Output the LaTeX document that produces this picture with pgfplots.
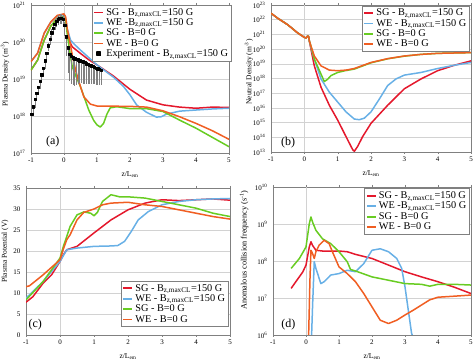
\documentclass[border=0pt]{standalone}
\usepackage{pgfplots}
\pgfplotsset{compat=1.18}
\usepackage{fontspec}
\setmainfont{Liberation Serif}
\definecolor{cRed}{RGB}{228,24,44}
\definecolor{cBlue}{RGB}{104,176,230}
\definecolor{cGreen}{RGB}{104,204,34}
\definecolor{cOrange}{RGB}{240,94,34}
\tikzset{plab/.style={font=\fontsize{12}{12}\selectfont}}
\pgfplotsset{
  panel/.style={
    scale only axis, xmin=-1, xmax=5, xtick={-1,0,1,2,3,4,5},
    axis line style={gray}, tick style={gray}, tick align=outside,
    major tick length=2pt, ytick style={draw=none},
    ymajorgrids, grid style={gray!35, line width=0.5pt},
    extra x ticks={0}, extra x tick labels={},
    extra x tick style={grid=major, major tick length=0pt},
    xlabel={z/L\textsubscript{em}},
    tick label style={font=\fontsize{7}{8}\selectfont},
    label style={font=\fontsize{7.5}{9}\selectfont},
    legend cell align=left,
    legend style={font=\fontsize{10.3}{11}\selectfont, draw=gray, line width=0.6pt,
      row sep=-2pt, inner sep=1pt, inner xsep=1.5pt},
    legend image code/.code={\draw[#1, line width=1.8pt] (0pt,0pt) -- (9pt,0pt);},
    every axis plot/.append style={line width=1.5pt, line join=round},
    /pgf/number format/assume math mode=true,
    xticklabel style={yshift=1pt},
  },
}
\begin{document}
\begin{tikzpicture}
\path[use as bounding box] (0pt,0pt) rectangle (474pt,361pt);
% ---------------- (a)
\begin{axis}[panel, ymode=log, log basis y=10,
  yticklabel={10\textsuperscript{\pgfmathprintnumber[fixed,precision=0]{\tick}}},
  at={(31pt,208pt)}, anchor=south west,
  width=198pt, height=148pt, ymin=1e17, ymax=1e21,
  ytick={1e17,1e18,1e19,1e20,1e21},
  ylabel={Plasma Density (m\textsuperscript{-3})},
  ylabel style={at={(rel axis cs:-0.131,0.534)}, anchor=center},
  legend style={at={(rel axis cs:1.015,1)}, anchor=north east}]
\addplot[cRed] coordinates {(-1,1.74e19)(-0.8,3.24e19)(-0.6,1.12e20)(-0.4,2.69e20)(-0.2,4.37e20)(-0.05,4.79e20)(0.05,3.98e20)(0.1,2.0e20)(0.15,1.12e20)(0.25,7.41e19)(0.5,4.9e19)(0.75,3.31e19)(1,2.4e19)(1.5,1.2e19)(2,5.25e18)(2.5,2.69e18)(3,2.0e18)(3.5,1.74e18)(4,1.62e18)(4.5,1.74e18)(5,1.70e18)};
\addlegendentry{SG - B\textsubscript{z,maxCL}=150 G}
\addplot[cBlue] coordinates {(-1,2.95e19)(-0.8,5.01e19)(-0.6,1.74e20)(-0.4,3.47e20)(-0.2,5.01e20)(0,5.5e20)(0.05,4.47e20)(0.1,2.24e20)(0.2,1.12e20)(0.3,8.91e19)(0.5,6.03e19)(0.75,3.8e19)(1,2.4e19)(1.5,1.12e19)(1.8,6.31e18)(2,3.72e18)(2.2,2.0e18)(2.5,1.26e18)(2.8,9.33e17)(2.95,9.55e17)(3.1,1.12e18)(3.5,1.35e18)(4,1.45e18)(4.5,1.55e18)(5,1.62e18)};
\addlegendentry{WE -B\textsubscript{z,maxCL}=150 G}
\addplot[cGreen] coordinates {(-1,1.74e19)(-0.8,3.24e19)(-0.6,1.12e20)(-0.4,2.69e20)(-0.2,4.37e20)(-0.05,4.79e20)(0.05,3.98e20)(0.1,1.58e20)(0.2,3.98e19)(0.25,2.14e19)(0.35,1.26e19)(0.5,6.17e18)(0.75,1.45e18)(0.9,7.59e17)(1.0,5.75e17)(1.1,5.01e17)(1.2,6.31e17)(1.3,1.12e18)(1.4,1.66e18)(1.6,1.78e18)(2,1.58e18)(2.5,1.58e18)(3,1.32e18)(3.5,7.76e17)(4,4.68e17)(4.5,2.63e17)(5,1.48e17)};
\addlegendentry{SG - B=0 G}
\addplot[cOrange] coordinates {(-1,2.95e19)(-0.8,5.01e19)(-0.6,1.74e20)(-0.4,3.47e20)(-0.2,5.25e20)(0,5.75e20)(0.05,4.79e20)(0.1,2.24e20)(0.15,1.38e20)(0.25,4.47e19)(0.35,1.74e19)(0.45,8.51e18)(0.6,3.31e18)(0.8,2.09e18)(1,1.86e18)(2,1.82e18)(2.5,1.74e18)(3,1.38e18)(3.5,9.55e17)(4,6.31e17)(4.5,3.98e17)(5,2.34e17)};
\addlegendentry{WE - B=0 G}
\addplot[black, only marks, mark=square*, mark size=1.2pt, mark options={line width=0.2pt},
  legend image code/.code={\draw[black, fill=black] (2.7pt,-1.8pt) rectangle (6.3pt,1.8pt);},
  error bars/.cd, y dir=both, y explicit relative,
  error bar style={gray, line width=0.4pt}, error mark=none]
  table[x=x, y=y, y error plus=ep, y error minus=em] {
x y ep em
-0.98 1.12e18 0 0.55
-0.93 1.78e18 0 0.4
-0.88 2.82e18 0 0.4
-0.83 4.17e18 0 0.4
-0.78 6.03e18 0 0.4
-0.73 8.91e18 0 0.4
-0.68 1.32e19 0 0.4
-0.63 2.0e19 0 0.4
-0.58 3.16e19 0 0.4
-0.53 5.01e19 0 0.4
-0.48 7.94e19 0.2 0.3
-0.43 1.2e20 0.2 0.3
-0.38 1.78e20 0.25 0.3
-0.33 2.4e20 0.25 0.3
-0.28 3.02e20 0.25 0.3
-0.23 3.63e20 0.25 0.3
-0.18 4.17e20 0.25 0.3
-0.13 4.47e20 0.25 0.3
-0.08 4.47e20 0.25 0.3
-0.03 4.17e20 0.25 0.4
0.02 2.82e20 0.2 0.5
0.07 1.41e20 0 0.7
0.12 7.08e19 0 0.8
0.17 4.79e19 0 0.82
0.22 4.17e19 0 0.82
0.27 3.8e19 0 0.82
0.32 3.55e19 0 0.82
0.37 3.39e19 0 0.8
0.42 3.31e19 0 0.78
0.47 3.16e19 0 0.76
0.52 3.09e19 0 0.75
0.57 2.95e19 0 0.75
0.62 2.82e19 0 0.74
0.67 2.63e19 0 0.72
0.72 2.51e19 0 0.7
0.77 2.4e19 0 0.7
0.82 2.29e19 0 0.68
0.87 2.19e19 0 0.67
0.92 2.09e19 0 0.66
0.97 2.0e19 0 0.65
1.02 1.91e19 0 0.65
1.07 1.82e19 0 0.62
1.12 1.74e19 0 0.6
};
\addlegendentry{Experiment - B\textsubscript{z,maxCL}=150 G}
\node[plab] at (rel axis cs:0.11,0.075) {(a)};
\end{axis}
% ---------------- (b)
\begin{axis}[panel, ymode=log, log basis y=10,
  yticklabel={10\textsuperscript{\pgfmathprintnumber[fixed,precision=0]{\tick}}},
  at={(271pt,209pt)}, anchor=south west,
  width=200pt, height=147pt, ymin=1e13, ymax=1e23,
  ytick={1e13,1e14,1e15,1e16,1e17,1e18,1e19,1e20,1e21,1e22,1e23},
  ylabel={Neutral Density (m\textsuperscript{-3})},
  ylabel style={at={(rel axis cs:-0.11,0.544)}, anchor=center},
  legend style={at={(rel axis cs:0.995,0.995)}, anchor=north east}]
\addplot[cRed] coordinates {(-1,2.75e22)(-0.8,1.26e22)(-0.5,4.57e21)(-0.2,1.26e21)(0,6.31e20)(0.05,5.62e20)(0.1,7.94e20)(0.13,7.08e20)(0.15,3.55e20)(0.2,9.55e19)(0.3,7.24e18)(0.5,2.57e17)(0.75,1.51e16)(1,1.48e15)(1.25,1.12e14)(1.45,1.45e13)(1.5,1.12e13)(1.6,2.4e13)(1.75,1.12e14)(2,8.91e14)(2.5,1.51e16)(3,2.0e17)(3.5,9.33e17)(4,3.39e18)(4.5,7.94e18)(5,1.58e19)};
\addlegendentry{SG - B\textsubscript{z,maxCL}=150 G}
\addplot[cBlue] coordinates {(-1,2.75e22)(-0.8,1.26e22)(-0.5,4.57e21)(-0.2,1.26e21)(0,6.31e20)(0.05,5.62e20)(0.1,7.94e20)(0.13,7.08e20)(0.15,3.55e20)(0.2,1.26e20)(0.3,2.04e19)(0.5,9.33e17)(0.75,1.17e17)(1,2.51e16)(1.25,5.37e15)(1.5,1.74e15)(1.65,1.58e15)(1.8,2.0e15)(2,5.37e15)(2.25,3.98e16)(2.5,3.31e17)(2.75,9.33e17)(3,1.7e18)(3.5,2.57e18)(4,4.79e18)(4.5,7.94e18)(5,1.23e19)};
\addlegendentry{WE - B\textsubscript{z,maxCL}=150 G}
\addplot[cGreen] coordinates {(-1,2.75e22)(-0.8,1.26e22)(-0.5,4.57e21)(-0.2,1.26e21)(0,6.31e20)(0.05,5.62e20)(0.1,7.94e20)(0.13,7.08e20)(0.15,3.55e20)(0.2,1.58e20)(0.3,2.04e19)(0.5,2.0e18)(0.6,6.17e17)(0.7,8.91e17)(0.8,1.58e18)(1,2.57e18)(1.2,3.31e18)(1.5,4.37e18)(2,1.17e19)(2.5,2.19e19)(3,3.31e19)(3.5,4.37e19)(4,5.13e19)(5,5.75e19)};
\addlegendentry{SG - B=0 G}
\addplot[cOrange] coordinates {(-1,2.75e22)(-0.8,1.26e22)(-0.5,4.57e21)(-0.2,1.26e21)(0,6.31e20)(0.05,5.62e20)(0.1,7.94e20)(0.13,7.08e20)(0.15,3.55e20)(0.2,1.58e20)(0.3,3.39e19)(0.5,7.24e18)(0.75,3.72e18)(1,3.39e18)(1.25,3.72e18)(1.5,4.79e18)(2,1.23e19)(2.5,2.24e19)(3,3.39e19)(3.5,4.37e19)(4,5.13e19)(5,5.75e19)};
\addlegendentry{WE - B=0 G}
\node[plab] at (rel axis cs:0.085,0.065) {(b)};
\end{axis}
% ---------------- (c)
\begin{axis}[panel, at={(26pt,26pt)}, anchor=south west,
  width=204pt, height=147pt, ymin=0, ymax=35,
  ytick={0,5,10,15,20,25,30,35},
  ylabel={Plasma Potential (V)},
  ylabel style={at={(rel axis cs:-0.103,0.571)}, anchor=center},
  legend style={at={(rel axis cs:0.995,0.055)}, anchor=south east}]
\addplot[cRed] coordinates {(-1,7.8)(-0.8,9.1)(-0.5,12.3)(-0.25,14.3)(0,17.5)(0.1,19.1)(0.2,20.3)(0.5,21.1)(1,24.3)(1.5,27.4)(2,29.8)(2.5,31.4)(3,32.2)(3.5,32.0)(4,32.2)(4.5,32.4)(5,32.1)};
\addlegendentry{SG - B\textsubscript{z,maxCL}=150 G}
\addplot[cBlue] coordinates {(-1,8.75)(-0.5,12.7)(0,17.5)(0.2,20.3)(0.5,20.7)(1,21.1)(1.5,21.2)(1.7,21.3)(1.9,22.3)(2.1,24.7)(2.3,27.4)(2.6,29.4)(3,31.0)(3.5,31.8)(4,32.2)(4.5,32.4)(5,32.5)};
\addlegendentry{WE - B\textsubscript{z,maxCL}=150 G}
\addplot[cGreen] coordinates {(-1,8.35)(-0.5,12.7)(0,18.3)(0.1,21.1)(0.3,25.9)(0.5,28.6)(0.7,29.3)(0.9,29.0)(1,28.4)(1.1,29.2)(1.25,31.8)(1.5,33.4)(1.75,32.9)(2,32.9)(2.5,32.6)(3,31.8)(3.5,31.0)(4,30.2)(4.5,29.0)(5,28.2)};
\addlegendentry{SG - B=0 G}
\addplot[cOrange] coordinates {(-1,11.5)(-0.9,11.7)(-0.5,14.3)(0,17.9)(0.1,20.5)(0.2,22.7)(0.3,23.9)(0.5,27.4)(0.7,29.2)(1,30.0)(1.25,31.0)(1.5,31.4)(2,31.6)(2.5,31.0)(3,30.6)(3.5,29.8)(4,29.0)(4.5,28.2)(5,27.6)};
\addlegendentry{WE - B=0 G}
\node[plab] at (rel axis cs:0.045,0.068) {(c)};
\end{axis}
% ---------------- (d)
\begin{axis}[panel, ymode=log, log basis y=10,
  yticklabel={10\textsuperscript{\pgfmathprintnumber[fixed,precision=0]{\tick}}},
  at={(273pt,26pt)}, anchor=south west,
  width=198pt, height=148pt, ymin=1e6, ymax=1e10,
  ytick={1e6,1e7,1e8,1e9,1e10},
  ylabel={Anomalous collision frequency (s\textsuperscript{-1})},
  ylabel style={at={(rel axis cs:-0.146,0.574)}, anchor=center, font=\fontsize{8.2}{9}\selectfont},
  legend style={at={(rel axis cs:0.995,0.99)}, anchor=north east}]
\addplot[cRed] coordinates {(-0.45,1.82e7)(-0.3,2.82e7)(-0.1,5.01e7)(0,7.76e7)(0.1,2.4e8)(0.15,3.31e8)(0.2,2.63e8)(0.3,1.95e8)(0.5,1.86e8)(1,1.86e8)(1.25,1.78e8)(1.5,1.51e8)(2,1.17e8)(2.5,7.76e7)(3,5.13e7)(3.5,3.72e7)(4,2.75e7)(4.5,1.95e7)(5,1.32e7)};
\addlegendentry{SG - B\textsubscript{z,maxCL}=150 G}
\addplot[cBlue] coordinates {(0.17,1e6)(0.2,6.31e6)(0.25,9.55e7)(0.3,6.31e7)(0.45,2.45e7)(0.55,2.75e7)(0.75,4.17e7)(1,4.57e7)(1.25,5.62e7)(1.5,5.13e7)(1.75,8.51e7)(2,1.95e8)(2.25,2.14e8)(2.5,1.78e8)(2.75,1.17e8)(2.9,6.31e7)(3,2.0e7)(3.1,4.68e6)(3.2,1.1e6)(3.22,1e6)};
\addlegendentry{WE -B\textsubscript{z,maxCL}=150 G}
\addplot[cGreen] coordinates {(-0.45,6.31e7)(-0.2,1.17e8)(0,2.4e8)(0.1,1.02e9)(0.15,1.55e9)(0.2,1.12e9)(0.3,6.76e8)(0.5,3.98e8)(0.75,2.95e8)(1,1.78e8)(1.25,9.55e7)(1.35,5.89e7)(1.5,5.37e7)(2,3.72e7)(2.5,3.02e7)(3,2.45e7)(3.5,2.34e7)(3.75,2.09e7)(4,2.34e7)(4.5,2.34e7)(5,2.24e7)};
\addlegendentry{SG - B=0 G}
\addplot[cOrange] coordinates {(0.08,1e6)(0.12,3.16e7)(0.15,1.95e8)(0.2,1.58e8)(0.25,1.17e8)(0.3,1.78e8)(0.4,2.69e8)(0.55,3.63e8)(0.7,2.95e8)(0.8,1.78e8)(1,6.92e7)(1.25,4.57e7)(1.5,2.75e7)(1.75,1.32e7)(2,5.75e6)(2.25,2.51e6)(2.5,2.04e6)(2.75,2.51e6)(3,3.47e6)(3.25,4.68e6)(3.5,6.46e6)(3.75,8.91e6)(4,1.05e7)(4.5,1.12e7)(5,1.2e7)};
\addlegendentry{WE - B=0 G}
\node[plab] at (rel axis cs:0.078,0.068) {(d)};
\end{axis}
\end{tikzpicture}
\end{document}
